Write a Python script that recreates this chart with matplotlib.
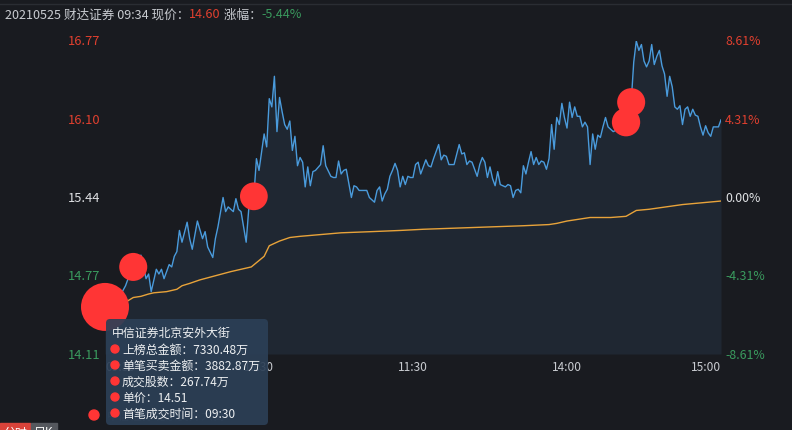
import matplotlib.pyplot as plt
from matplotlib.patches import FancyBboxPatch, Rectangle
from matplotlib.transforms import IdentityTransform

plt.rcParams['font.family'] = ['Noto Sans CJK SC', 'DejaVu Sans']

# ---- data (minute index = trading minutes since 09:30, lunch break removed) ----
pre_close = 15.44
y_ticks = [14.11, 14.775, 15.44, 16.105, 16.77]
y_labels = ['14.11', '14.77', '15.44', '16.10', '16.77']
x_ticks = [0, 60, 120, 180, 240]
x_labels = ['09:30', '10:30', '11:30', '14:00', '15:00']

price_idx = [0, 2, 4, 6, 8, 9, 11, 14, 16, 17, 18, 20, 21, 22, 23, 25, 26, 27, 28, 29,
             30, 32, 33, 34, 36, 38, 39, 40, 42, 43, 44, 46, 47, 48, 49, 50, 51, 52, 53, 55,
             56, 58, 59, 60, 62, 63, 64, 65, 66, 67, 68, 69, 70, 71, 72, 73, 74, 75, 76, 77,
             78, 79, 80, 81, 82, 84, 85, 86, 88, 89, 90, 91, 92, 93, 94, 96, 97, 98, 99, 102,
             103, 105, 106, 107, 108, 109, 110, 111, 112, 113, 114, 115, 116, 117, 118, 119, 120, 121, 122, 123,
             125, 126, 127, 128, 130, 131, 132, 133, 134, 136, 138, 139, 140, 141, 142, 143, 145, 146, 147, 148,
             149, 150, 151, 152, 153, 154, 156, 157, 158, 159, 160, 161, 162, 163, 164, 165, 166, 167, 168, 169,
             170, 171, 172, 173, 174, 175, 176, 177, 178, 179, 180, 181, 182, 183, 184, 185, 186, 187, 188, 189,
             190, 191, 192, 193, 194, 195, 196, 198, 199, 201, 203, 205, 206, 207, 208, 209, 210, 211, 212, 213,
             214, 215, 216, 217, 218, 219, 220, 221, 222, 223, 224, 225, 226, 227, 228, 229, 230, 231, 232, 233,
             234, 235, 236, 237, 238, 239, 240]
price_val = [14.51, 14.53, 14.58, 14.61, 14.69, 14.75, 14.85, 14.95, 14.75, 14.79, 14.64, 14.83, 14.79, 14.83, 14.75, 14.87, 14.85, 14.94, 14.98, 15.16,
             15.06, 15.23, 15.09, 15.00, 15.24, 15.09, 15.15, 15.02, 14.93, 15.09, 15.19, 15.44, 15.32, 15.36, 15.34, 15.32, 15.43, 15.34, 15.32, 15.06,
             15.34, 15.45, 15.77, 15.67, 15.98, 15.87, 16.28, 16.21, 16.47, 16.00, 16.29, 16.17, 16.06, 16.02, 16.09, 15.84, 15.96, 15.71, 15.78, 15.74,
             15.53, 15.70, 15.54, 15.66, 15.67, 15.72, 15.88, 15.71, 15.62, 15.61, 15.61, 15.75, 15.64, 15.67, 15.68, 15.44, 15.54, 15.53, 15.50, 15.50,
             15.44, 15.40, 15.50, 15.53, 15.41, 15.47, 15.51, 15.62, 15.67, 15.73, 15.67, 15.53, 15.62, 15.55, 15.62, 15.61, 15.61, 15.72, 15.74, 15.64,
             15.76, 15.71, 15.70, 15.77, 15.89, 15.76, 15.80, 15.79, 15.72, 15.72, 15.89, 15.81, 15.82, 15.72, 15.75, 15.74, 15.62, 15.72, 15.78, 15.74,
             15.61, 15.70, 15.60, 15.54, 15.66, 15.55, 15.53, 15.55, 15.54, 15.44, 15.50, 15.51, 15.48, 15.71, 15.64, 15.74, 15.83, 15.72, 15.78, 15.72,
             15.75, 15.74, 15.68, 15.77, 16.06, 15.85, 16.12, 16.06, 16.24, 16.12, 16.03, 16.25, 16.12, 16.21, 16.13, 16.13, 16.04, 16.08, 16.04, 15.72,
             15.98, 15.85, 15.97, 15.95, 16.04, 16.12, 16.04, 16.00, 16.01, 16.03, 16.08, 16.25, 16.59, 16.77, 16.69, 16.74, 16.60, 16.55, 16.60, 16.74,
             16.57, 16.64, 16.69, 16.56, 16.49, 16.30, 16.47, 16.38, 16.21, 16.19, 16.22, 16.06, 16.19, 16.21, 16.13, 16.19, 16.14, 16.13, 16.04, 15.97,
             16.05, 15.99, 15.96, 16.04, 16.04, 16.04, 16.10]

avg_idx = [0, 8, 11, 14, 17, 19, 24, 28, 30, 33, 37, 49, 57, 62, 64, 68, 72, 76, 92, 104,
           115, 124, 137, 150, 163, 173, 176, 180, 189, 197, 203, 207, 212, 225, 240]
avg_val = [14.51, 14.55, 14.59, 14.60, 14.62, 14.63, 14.64, 14.66, 14.69, 14.71, 14.74, 14.81, 14.85, 14.94, 15.03, 15.07, 15.10, 15.11, 15.14, 15.15,
           15.16, 15.17, 15.18, 15.19, 15.20, 15.21, 15.22, 15.24, 15.27, 15.27, 15.28, 15.33, 15.34, 15.38, 15.41]

# dragon-tiger seat trades (amounts in 万, only the first is readable)
trade_idx = [0, 11, 58, 203, 205]
trade_price = [14.51, 14.85, 15.45, 16.08, 16.25]
trade_amount = [7330.48, 2500, 2450, 2550, 2500]

tip_title = '中信证券北京安外大街'
tip_rows = ['上榜总金额：7330.48万', '单笔买卖金额：3882.87万', '成交股数：267.74万',
            '单价：14.51', '首笔成交时间：09:30']

BG = '#191b20'
FILL = '#1f2732'
LINE = '#4a9bdc'
AVG = '#e8a33a'
RED = '#e0402f'
GREEN = '#3a9a5e'
TXT = '#c9ccd1'
BUBBLE = '#ff3535'

W, H = 792, 431
FS = 8.6
fig = plt.figure(figsize=(W / 100, H / 100), dpi=100)
fig.patch.set_facecolor(BG)
ax = fig.add_axes([105 / W, 1 - 355 / H, (721 - 105) / W, (355 - 42) / H])
ax.set_facecolor(BG)
for s in ax.spines.values():
    s.set_visible(False)
ax.set_xlim(0, 240)
ax.set_ylim(y_ticks[0], y_ticks[-1])
ax.set_xticks([])
ax.set_yticks([])

ax.fill_between(price_idx, price_val, y_ticks[0], color=FILL, lw=0, zorder=1)
ax.plot(price_idx, price_val, color=LINE, lw=1.0, zorder=3)
ax.plot(avg_idx, avg_val, color=AVG, lw=1.0, zorder=3)
sizes = [a * 0.163 for a in trade_amount]
ax.scatter(trade_idx, trade_price, s=sizes, color=BUBBLE, lw=0, zorder=5, clip_on=False)

def tick_color(v):
    if v > pre_close + 1e-6:
        return RED
    if v < pre_close - 1e-6:
        return GREEN
    return '#dfe1e4'

for v, lab in zip(y_ticks, y_labels):
    c = tick_color(v)
    ax.annotate(lab, (0, v), xycoords=('axes fraction', 'data'), xytext=(-3.5, 0),
                textcoords='offset points', ha='right', va='center', color=c, fontsize=9.3)
    pct = (v / pre_close - 1) * 100
    ax.annotate('%.2f%%' % pct, (1, v), xycoords=('axes fraction', 'data'), xytext=(3, 0),
                textcoords='offset points', ha='left', va='center', color=c, fontsize=8.9)

for t, lab, ha in zip(x_ticks, x_labels, ['left', 'center', 'center', 'center', 'right']):
    ax.annotate(lab, (t, 0), xycoords=('data', 'axes fraction'), xytext=(0, -9),
                textcoords='offset points', ha=ha, va='center', color=TXT, fontsize=FS)

# top separator and title
px = IdentityTransform()
fig.add_artist(plt.Line2D([0, W], [H - 5, H - 5], color='#2a2d33', lw=1, transform=px))
r = fig.canvas.get_renderer()
x = 5
for part, c in [('20210525 财达证券 09:34 现价：', TXT), ('14.60', RED), (' 涨幅：', TXT), ('-5.44%', GREEN)]:
    t = fig.text(x, H - 15, part, transform=px, color=c, fontsize=9.1, va='center', ha='left')
    x = t.get_window_extent(renderer=r).x1

# legend item (mostly behind the tooltip)
fig.add_artist(plt.Circle((94, H - 416), 5, color=BUBBLE, transform=px))
fig.text(107, H - 416, tip_title, transform=px, color='#4e545d', fontsize=FS, va='center')

# bottom tabs (cut off by figure edge)
fig.add_artist(Rectangle((0, -10), 30, 17, color='#d9433a', transform=px))
fig.add_artist(Rectangle((31, -10), 26, 17, color='#55585e', transform=px))
fig.text(15, -2, '分时', transform=px, color='white', fontsize=FS, ha='center', va='center')
fig.text(44, -2, '日K', transform=px, color='white', fontsize=FS, ha='center', va='center')

# tooltip
tip = FancyBboxPatch((106, H - 426), 162, 106, boxstyle='round,pad=0,rounding_size=4',
                     fc='#2c3f56', ec='none', alpha=0.92, transform=px, zorder=10)
fig.add_artist(tip)
fig.text(112, H - 333, tip_title, transform=px, color='#eef0f2', fontsize=FS, va='center', zorder=11)
for i, row in enumerate(tip_rows):
    yy = H - (350 + 16 * i)
    fig.add_artist(plt.Circle((115, yy), 4, color=BUBBLE, transform=px, zorder=11))
    fig.text(122, yy, row, transform=px, color='#eef0f2', fontsize=FS, va='center', zorder=11)

fig.savefig('out.png', dpi=100, facecolor=BG)
